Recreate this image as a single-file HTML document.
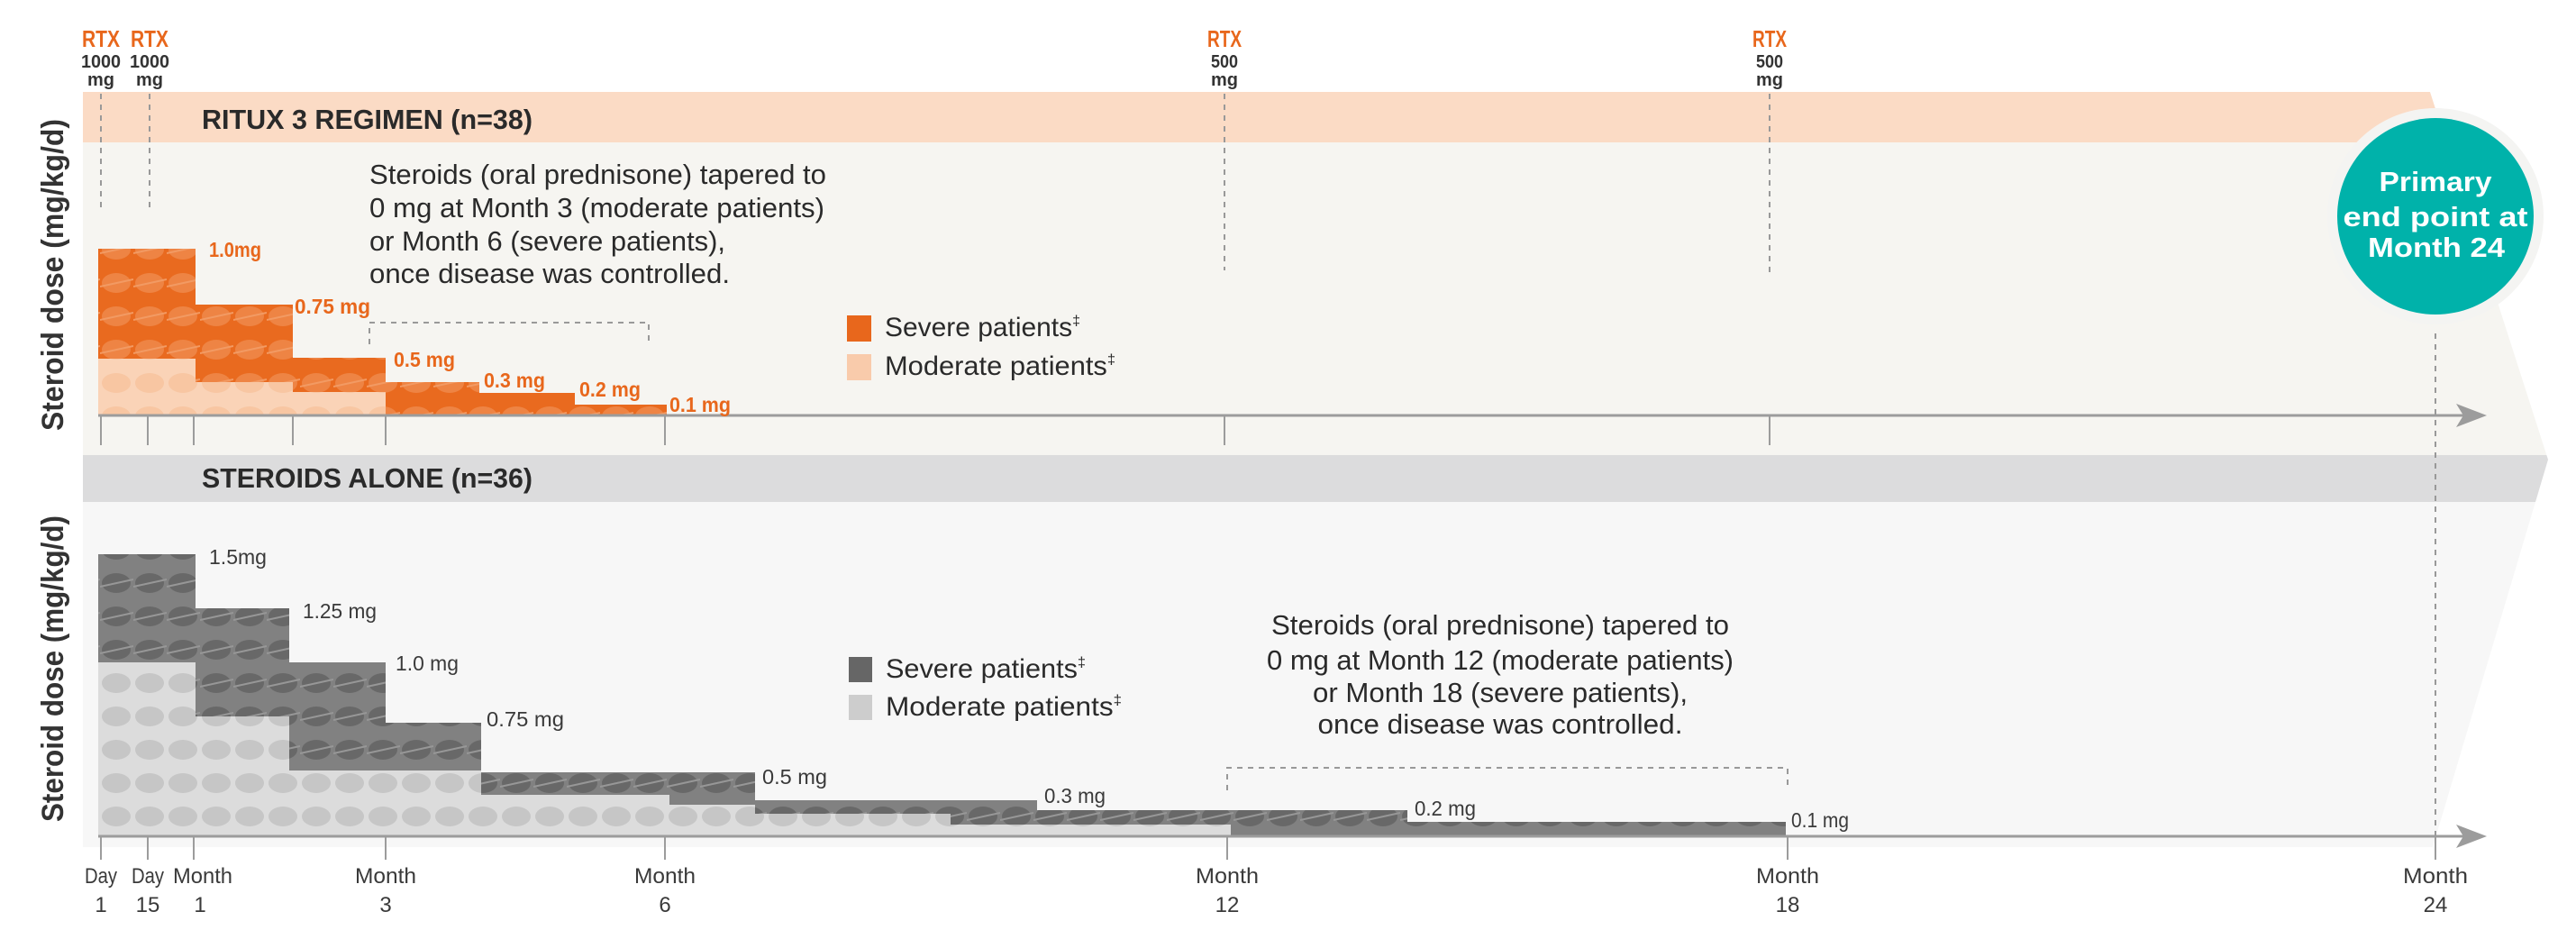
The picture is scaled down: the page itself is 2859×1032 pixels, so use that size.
<!DOCTYPE html>
<html><head><meta charset="utf-8"><style>
html,body{margin:0;padding:0;background:#fff;}
svg{display:block;}
text{font-family:"Liberation Sans",sans-serif;}
</style></head><body>
<svg width="2859" height="1032" viewBox="0 0 2859 1032" xmlns="http://www.w3.org/2000/svg">
<defs>
<clipPath id="chev"><polygon points="92,102 2697,102 2828,510 2700,940 92,940"/></clipPath>
<pattern id="pO" width="37" height="37" patternUnits="userSpaceOnUse">
<rect width="37" height="37" fill="#e96a1f"/>
<ellipse cx="18" cy="18" rx="16" ry="11" fill="#ee8444"/>
<line x1="0" y1="22" x2="37" y2="14" stroke="#f29a63" stroke-width="2"/>
</pattern>
<pattern id="pOl" width="37" height="37" patternUnits="userSpaceOnUse">
<rect width="37" height="37" fill="#fad3b7"/>
<ellipse cx="18" cy="18" rx="16" ry="11" fill="#f8c6a2"/>
</pattern>
<pattern id="pG" width="37" height="37" patternUnits="userSpaceOnUse">
<rect width="37" height="37" fill="#818181"/>
<ellipse cx="18" cy="18" rx="16" ry="11" fill="#686868"/>
<line x1="0" y1="22" x2="37" y2="14" stroke="#979797" stroke-width="2"/>
</pattern>
<pattern id="pGl" width="37" height="37" patternUnits="userSpaceOnUse">
<rect width="37" height="37" fill="#dcdcdc"/>
<ellipse cx="18" cy="18" rx="16" ry="11" fill="#c6c6c6"/>
</pattern>
</defs>

<g clip-path="url(#chev)">
<rect x="92" y="102" width="2740" height="56" fill="#fbdbc5"/>
<rect x="92" y="158" width="2740" height="347" fill="#f6f5f1"/>
<rect x="92" y="505" width="2740" height="52" fill="#dcdcdd"/>
<rect x="92" y="557" width="2740" height="383" fill="#f7f7f7"/>
</g>

<g text-anchor="middle" font-weight="bold">
<text x="112" y="52" font-size="26" fill="#e8671c" textLength="42" lengthAdjust="spacingAndGlyphs">RTX</text>
<text x="166" y="52" font-size="26" fill="#e8671c" textLength="42" lengthAdjust="spacingAndGlyphs">RTX</text>
<text x="1359" y="52" font-size="26" fill="#e8671c" textLength="38" lengthAdjust="spacingAndGlyphs">RTX</text>
<text x="1964" y="52" font-size="26" fill="#e8671c" textLength="38" lengthAdjust="spacingAndGlyphs">RTX</text>
<g fill="#333" font-size="20">
<text x="112" y="75" textLength="44" lengthAdjust="spacingAndGlyphs">1000</text>
<text x="112" y="95">mg</text>
<text x="166" y="75" textLength="44" lengthAdjust="spacingAndGlyphs">1000</text>
<text x="166" y="95">mg</text>
<text x="1359" y="75" textLength="30" lengthAdjust="spacingAndGlyphs">500</text>
<text x="1359" y="95">mg</text>
<text x="1964" y="75" textLength="30" lengthAdjust="spacingAndGlyphs">500</text>
<text x="1964" y="95">mg</text>
</g></g>

<g stroke="#999" stroke-width="2" stroke-dasharray="6,6" fill="none">
<line x1="112" y1="104" x2="112" y2="230"/>
<line x1="166" y1="104" x2="166" y2="230"/>
<line x1="1359" y1="104" x2="1359" y2="300"/>
<line x1="1964" y1="104" x2="1964" y2="305"/>
<line x1="2703" y1="370" x2="2703" y2="955"/>
<polyline points="410,382 410,358 720,358 720,382"/>
<polyline points="1362,877 1362,852 1984,852 1984,877"/>
</g>

<text x="224" y="143" font-size="31" font-weight="bold" fill="#2a2a2a" textLength="367" lengthAdjust="spacingAndGlyphs">RITUX 3 REGIMEN (n=38)</text>
<text x="224" y="541" font-size="31" font-weight="bold" fill="#2a2a2a" textLength="367" lengthAdjust="spacingAndGlyphs">STEROIDS ALONE (n=36)</text>

<text transform="translate(70,305) rotate(-90)" text-anchor="middle" font-size="34" font-weight="bold" fill="#333" textLength="346" lengthAdjust="spacingAndGlyphs">Steroid dose (mg/kg/d)</text>
<text transform="translate(70,742) rotate(-90)" text-anchor="middle" font-size="34" font-weight="bold" fill="#333" textLength="340" lengthAdjust="spacingAndGlyphs">Steroid dose (mg/kg/d)</text>

<path d="M109,461 L109,276 L217,276 L217,338 L325,338 L325,397 L428,397 L428,424 L532,424 L532,436 L638,436 L638,449 L740,449 L740,461 Z" fill="url(#pO)"/>
<path d="M109,461 L109,398 L217,398 L217,424 L325,424 L325,435 L428,435 L428,461 Z" fill="url(#pOl)"/>

<path d="M109,928 L109,615 L217,615 L217,675 L321,675 L321,735 L428,735 L428,802 L534,802 L534,857 L838,857 L838,888 L1151,888 L1151,899 L1562,899 L1562,912 L1982,912 L1982,928 Z" fill="url(#pG)"/>
<path d="M109,928 L109,735 L217,735 L217,795 L321,795 L321,855 L534,855 L534,882 L743,882 L743,893 L838,893 L838,903 L1055,903 L1055,915 L1366,915 L1366,928 Z" fill="url(#pGl)"/>

<g stroke="#9c9c9c" stroke-width="3" fill="none">
<line x1="109" y1="461" x2="2750" y2="461"/>
<line x1="109" y1="928" x2="2750" y2="928"/>
<g stroke-width="2">
<line x1="112" y1="461" x2="112" y2="494"/><line x1="164" y1="461" x2="164" y2="494"/><line x1="215" y1="461" x2="215" y2="494"/><line x1="325" y1="461" x2="325" y2="494"/><line x1="428" y1="461" x2="428" y2="494"/><line x1="738" y1="461" x2="738" y2="494"/><line x1="1359" y1="461" x2="1359" y2="494"/><line x1="1964" y1="461" x2="1964" y2="494"/>
<line x1="112" y1="928" x2="112" y2="954"/><line x1="164" y1="928" x2="164" y2="954"/><line x1="215" y1="928" x2="215" y2="954"/><line x1="428" y1="928" x2="428" y2="954"/><line x1="738" y1="928" x2="738" y2="954"/><line x1="1362" y1="928" x2="1362" y2="954"/><line x1="1984" y1="928" x2="1984" y2="954"/><line x1="2703" y1="928" x2="2703" y2="954"/>
</g></g>
<polygon points="2760,461 2726,448 2734,461 2726,474" fill="#9c9c9c"/>
<polygon points="2760,928 2726,915 2734,928 2726,941" fill="#9c9c9c"/>

<g fill="#e8671c" font-size="23" font-weight="bold">
<text x="232" y="285" textLength="58" lengthAdjust="spacingAndGlyphs">1.0mg</text>
<text x="327" y="348" textLength="84" lengthAdjust="spacingAndGlyphs">0.75 mg</text>
<text x="437" y="407" textLength="68" lengthAdjust="spacingAndGlyphs">0.5 mg</text>
<text x="537" y="430" textLength="68" lengthAdjust="spacingAndGlyphs">0.3 mg</text>
<text x="643" y="440" textLength="68" lengthAdjust="spacingAndGlyphs">0.2 mg</text>
<text x="743" y="457" textLength="68" lengthAdjust="spacingAndGlyphs">0.1 mg</text>
</g>
<g fill="#3a3a3a" font-size="23">
<text x="232" y="626" textLength="64" lengthAdjust="spacingAndGlyphs">1.5mg</text>
<text x="336" y="686" textLength="82" lengthAdjust="spacingAndGlyphs">1.25 mg</text>
<text x="439" y="744" textLength="70" lengthAdjust="spacingAndGlyphs">1.0 mg</text>
<text x="540" y="806" textLength="86" lengthAdjust="spacingAndGlyphs">0.75 mg</text>
<text x="846" y="870" textLength="72" lengthAdjust="spacingAndGlyphs">0.5 mg</text>
<text x="1159" y="891" textLength="68" lengthAdjust="spacingAndGlyphs">0.3 mg</text>
<text x="1570" y="905" textLength="68" lengthAdjust="spacingAndGlyphs">0.2 mg</text>
<text x="1988" y="918" textLength="64" lengthAdjust="spacingAndGlyphs">0.1 mg</text>
</g>

<g fill="#2a2a2a" font-size="31">
<text x="410" y="204" textLength="507" lengthAdjust="spacingAndGlyphs">Steroids (oral prednisone) tapered to</text>
<text x="410" y="241" textLength="505" lengthAdjust="spacingAndGlyphs">0 mg at Month 3 (moderate patients)</text>
<text x="410" y="278" textLength="395" lengthAdjust="spacingAndGlyphs">or Month 6 (severe patients),</text>
<text x="410" y="314" textLength="400" lengthAdjust="spacingAndGlyphs">once disease was controlled.</text>
</g>
<g fill="#2a2a2a" font-size="31" text-anchor="middle">
<text x="1665" y="704" textLength="508" lengthAdjust="spacingAndGlyphs">Steroids (oral prednisone) tapered to</text>
<text x="1665" y="743" textLength="518" lengthAdjust="spacingAndGlyphs">0 mg at Month 12 (moderate patients)</text>
<text x="1665" y="779" textLength="416" lengthAdjust="spacingAndGlyphs">or Month 18 (severe patients),</text>
<text x="1665" y="814" textLength="405" lengthAdjust="spacingAndGlyphs">once disease was controlled.</text>
</g>

<rect x="940" y="350" width="27" height="29" fill="#e8671c"/>
<rect x="940" y="393" width="27" height="29" fill="#f9cbab"/>
<g fill="#2a2a2a" font-size="30">
<text x="982" y="373" textLength="217" lengthAdjust="spacingAndGlyphs">Severe patients<tspan font-size="16" dy="-12">‡</tspan></text>
<text x="982" y="416" textLength="256" lengthAdjust="spacingAndGlyphs">Moderate patients<tspan font-size="16" dy="-12">‡</tspan></text>
</g>
<rect x="942" y="729" width="26" height="28" fill="#666"/>
<rect x="942" y="771" width="26" height="28" fill="#cdcdcd"/>
<g fill="#2a2a2a" font-size="30">
<text x="983" y="752" textLength="222" lengthAdjust="spacingAndGlyphs">Severe patients<tspan font-size="16" dy="-12">‡</tspan></text>
<text x="983" y="794" textLength="262" lengthAdjust="spacingAndGlyphs">Moderate patients<tspan font-size="16" dy="-12">‡</tspan></text>
</g>

<g fill="#3a3a3a" font-size="24" text-anchor="middle">
<text x="112" y="980" textLength="36" lengthAdjust="spacingAndGlyphs">Day</text><text x="112" y="1012">1</text>
<text x="164" y="980" textLength="36" lengthAdjust="spacingAndGlyphs">Day</text><text x="164" y="1012">15</text>
<text x="225" y="980" textLength="66" lengthAdjust="spacingAndGlyphs">Month</text><text x="222" y="1012">1</text>
<text x="428" y="980" textLength="68" lengthAdjust="spacingAndGlyphs">Month</text><text x="428" y="1012">3</text>
<text x="738" y="980" textLength="68" lengthAdjust="spacingAndGlyphs">Month</text><text x="738" y="1012">6</text>
<text x="1362" y="980" textLength="70" lengthAdjust="spacingAndGlyphs">Month</text><text x="1362" y="1012">12</text>
<text x="1984" y="980" textLength="70" lengthAdjust="spacingAndGlyphs">Month</text><text x="1984" y="1012">18</text>
<text x="2703" y="980" textLength="72" lengthAdjust="spacingAndGlyphs">Month</text><text x="2703" y="1012">24</text>
</g>

<circle cx="2703" cy="240" r="120" fill="#f4f4f2"/>
<circle cx="2703" cy="240" r="109" fill="#00b2aa"/>
<g fill="#fff" font-size="31" font-weight="bold" text-anchor="middle">
<text x="2703" y="212" textLength="125" lengthAdjust="spacingAndGlyphs">Primary</text>
<text x="2703" y="251" textLength="205" lengthAdjust="spacingAndGlyphs">end point at</text>
<text x="2704" y="285" textLength="152" lengthAdjust="spacingAndGlyphs">Month 24</text>
</g>
</svg>
</body></html>
